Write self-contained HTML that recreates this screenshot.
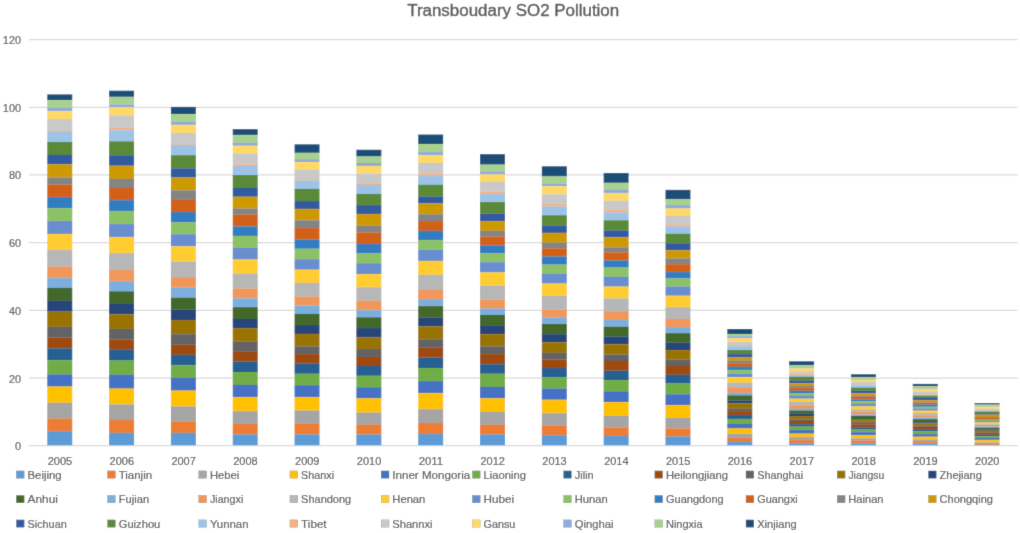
<!DOCTYPE html><html><head><meta charset="utf-8"><title>Transboudary SO2 Pollution</title>
<style>
html,body{margin:0;padding:0;background:#fff;}
body{width:1020px;height:533px;overflow:hidden;position:relative;font-family:"Liberation Sans",sans-serif;}
svg{position:absolute;left:0;top:0;display:block;}
text{font-family:"Liberation Sans",sans-serif;fill:#595959;}
.t{font-size:16px;stroke:#595959;stroke-width:0.4px;}
.a{font-size:11.2px;stroke:#595959;stroke-width:0.2px;}
.l{font-size:10.5px;stroke:#595959;stroke-width:0.2px;}
</style></head><body>
<svg width="1020" height="533" viewBox="0 0 1020 533">
<defs><filter id="soft" x="0" y="0" width="1020" height="533" filterUnits="userSpaceOnUse"><feConvolveMatrix order="3" kernelMatrix="0.01134 0.08382 0.01134 0.08382 0.61935 0.08382 0.01134 0.08382 0.01134" divisor="1" edgeMode="duplicate" preserveAlpha="true"/></filter></defs>
<g filter="url(#soft)">
<rect x="0" y="0" width="1020" height="533" fill="#fff"/>
<g stroke="#DADADA" stroke-width="1.25">
<line x1="28.85" y1="445.70" x2="1017.6" y2="445.70"/>
<line x1="28.85" y1="378.02" x2="1017.6" y2="378.02"/>
<line x1="28.85" y1="310.34" x2="1017.6" y2="310.34"/>
<line x1="28.85" y1="242.66" x2="1017.6" y2="242.66"/>
<line x1="28.85" y1="174.98" x2="1017.6" y2="174.98"/>
<line x1="28.85" y1="107.30" x2="1017.6" y2="107.30"/>
<line x1="28.85" y1="39.62" x2="1017.6" y2="39.62"/>
</g>
<g class="a" text-anchor="end">
<text x="21.0" y="450.20" textLength="6.05" lengthAdjust="spacingAndGlyphs">0</text>
<text x="21.0" y="382.52" textLength="12.10" lengthAdjust="spacingAndGlyphs">20</text>
<text x="21.0" y="314.84" textLength="12.10" lengthAdjust="spacingAndGlyphs">40</text>
<text x="21.0" y="247.16" textLength="12.10" lengthAdjust="spacingAndGlyphs">60</text>
<text x="21.0" y="179.48" textLength="12.10" lengthAdjust="spacingAndGlyphs">80</text>
<text x="21.0" y="111.80" textLength="18.15" lengthAdjust="spacingAndGlyphs">100</text>
<text x="21.0" y="44.12" textLength="18.15" lengthAdjust="spacingAndGlyphs">120</text>
</g>
<g id="bars">
<g>
<rect x="47.26" y="94.39" width="25.0" height="5.89" fill="#1F4E79"/>
<rect x="47.26" y="100.13" width="25.0" height="7.92" fill="#A9D18E"/>
<rect x="47.26" y="107.90" width="25.0" height="3.19" fill="#8FAADC"/>
<rect x="47.26" y="110.94" width="25.0" height="8.26" fill="#FFD966"/>
<rect x="47.26" y="119.04" width="25.0" height="11.97" fill="#C9C9C9"/>
<rect x="47.26" y="130.86" width="25.0" height="1.16" fill="#F4B183"/>
<rect x="47.26" y="131.88" width="25.0" height="10.28" fill="#9DC3E6"/>
<rect x="47.26" y="142.01" width="25.0" height="12.98" fill="#5A8A39"/>
<rect x="47.26" y="154.84" width="25.0" height="9.61" fill="#335AA1"/>
<rect x="47.26" y="164.30" width="25.0" height="13.32" fill="#CC9A00"/>
<rect x="47.26" y="177.47" width="25.0" height="7.24" fill="#848484"/>
<rect x="47.26" y="184.56" width="25.0" height="12.65" fill="#D26012"/>
<rect x="47.26" y="197.05" width="25.0" height="11.29" fill="#327DC2"/>
<rect x="47.26" y="208.20" width="25.0" height="12.98" fill="#8CC168"/>
<rect x="47.26" y="221.03" width="25.0" height="12.98" fill="#698ED0"/>
<rect x="47.26" y="233.86" width="25.0" height="16.02" fill="#FFCD33"/>
<rect x="47.26" y="249.74" width="25.0" height="17.04" fill="#B7B7B7"/>
<rect x="47.26" y="266.62" width="25.0" height="11.63" fill="#F1975A"/>
<rect x="47.26" y="278.11" width="25.0" height="9.94" fill="#7CAFDD"/>
<rect x="47.26" y="287.90" width="25.0" height="12.98" fill="#43682B"/>
<rect x="47.26" y="300.73" width="25.0" height="10.96" fill="#264478"/>
<rect x="47.26" y="311.54" width="25.0" height="15.35" fill="#997300"/>
<rect x="47.26" y="326.74" width="25.0" height="10.96" fill="#636363"/>
<rect x="47.26" y="337.54" width="25.0" height="10.96" fill="#9E480E"/>
<rect x="47.26" y="348.35" width="25.0" height="11.97" fill="#255E91"/>
<rect x="47.26" y="360.17" width="25.0" height="14.33" fill="#70AD47"/>
<rect x="47.26" y="374.35" width="25.0" height="12.31" fill="#4472C4"/>
<rect x="47.26" y="386.51" width="25.0" height="16.36" fill="#FFC000"/>
<rect x="47.26" y="402.72" width="25.0" height="16.02" fill="#A5A5A5"/>
<rect x="47.26" y="418.59" width="25.0" height="12.65" fill="#ED7D31"/>
<rect x="47.26" y="431.09" width="25.0" height="14.16" fill="#5B9BD5"/>
</g>
<g>
<rect x="109.08" y="90.68" width="25.0" height="6.23" fill="#1F4E79"/>
<rect x="109.08" y="96.75" width="25.0" height="7.92" fill="#A9D18E"/>
<rect x="109.08" y="104.52" width="25.0" height="2.85" fill="#8FAADC"/>
<rect x="109.08" y="107.22" width="25.0" height="8.26" fill="#FFD966"/>
<rect x="109.08" y="115.33" width="25.0" height="12.31" fill="#C9C9C9"/>
<rect x="109.08" y="127.49" width="25.0" height="2.85" fill="#F4B183"/>
<rect x="109.08" y="130.19" width="25.0" height="11.29" fill="#9DC3E6"/>
<rect x="109.08" y="141.33" width="25.0" height="14.00" fill="#5A8A39"/>
<rect x="109.08" y="155.18" width="25.0" height="10.62" fill="#335AA1"/>
<rect x="109.08" y="165.65" width="25.0" height="13.32" fill="#CC9A00"/>
<rect x="109.08" y="178.82" width="25.0" height="9.27" fill="#848484"/>
<rect x="109.08" y="187.94" width="25.0" height="12.31" fill="#D26012"/>
<rect x="109.08" y="200.09" width="25.0" height="10.96" fill="#327DC2"/>
<rect x="109.08" y="210.90" width="25.0" height="13.32" fill="#8CC168"/>
<rect x="109.08" y="224.07" width="25.0" height="12.98" fill="#698ED0"/>
<rect x="109.08" y="236.90" width="25.0" height="16.36" fill="#FFCD33"/>
<rect x="109.08" y="253.11" width="25.0" height="17.04" fill="#B7B7B7"/>
<rect x="109.08" y="270.00" width="25.0" height="11.29" fill="#F1975A"/>
<rect x="109.08" y="281.14" width="25.0" height="10.28" fill="#7CAFDD"/>
<rect x="109.08" y="291.28" width="25.0" height="12.65" fill="#43682B"/>
<rect x="109.08" y="303.77" width="25.0" height="10.62" fill="#264478"/>
<rect x="109.08" y="314.24" width="25.0" height="14.67" fill="#997300"/>
<rect x="109.08" y="328.76" width="25.0" height="10.96" fill="#636363"/>
<rect x="109.08" y="339.57" width="25.0" height="10.28" fill="#9E480E"/>
<rect x="109.08" y="349.70" width="25.0" height="10.96" fill="#255E91"/>
<rect x="109.08" y="360.51" width="25.0" height="14.33" fill="#70AD47"/>
<rect x="109.08" y="374.69" width="25.0" height="14.00" fill="#4472C4"/>
<rect x="109.08" y="388.54" width="25.0" height="16.02" fill="#FFC000"/>
<rect x="109.08" y="404.41" width="25.0" height="15.68" fill="#A5A5A5"/>
<rect x="109.08" y="419.94" width="25.0" height="12.98" fill="#ED7D31"/>
<rect x="109.08" y="432.78" width="25.0" height="12.47" fill="#5B9BD5"/>
</g>
<g>
<rect x="170.90" y="106.89" width="25.0" height="7.24" fill="#1F4E79"/>
<rect x="170.90" y="113.98" width="25.0" height="7.92" fill="#A9D18E"/>
<rect x="170.90" y="121.74" width="25.0" height="3.19" fill="#8FAADC"/>
<rect x="170.90" y="124.78" width="25.0" height="8.26" fill="#FFD966"/>
<rect x="170.90" y="132.89" width="25.0" height="11.29" fill="#C9C9C9"/>
<rect x="170.90" y="144.03" width="25.0" height="0.83" fill="#F4B183"/>
<rect x="170.90" y="144.71" width="25.0" height="10.62" fill="#9DC3E6"/>
<rect x="170.90" y="155.18" width="25.0" height="13.32" fill="#5A8A39"/>
<rect x="170.90" y="168.35" width="25.0" height="9.27" fill="#335AA1"/>
<rect x="170.90" y="177.47" width="25.0" height="12.98" fill="#CC9A00"/>
<rect x="170.90" y="190.30" width="25.0" height="9.61" fill="#848484"/>
<rect x="170.90" y="199.76" width="25.0" height="12.31" fill="#D26012"/>
<rect x="170.90" y="211.91" width="25.0" height="10.62" fill="#327DC2"/>
<rect x="170.90" y="222.38" width="25.0" height="11.97" fill="#8CC168"/>
<rect x="170.90" y="234.20" width="25.0" height="12.31" fill="#698ED0"/>
<rect x="170.90" y="246.36" width="25.0" height="15.35" fill="#FFCD33"/>
<rect x="170.90" y="261.56" width="25.0" height="15.68" fill="#B7B7B7"/>
<rect x="170.90" y="277.09" width="25.0" height="10.62" fill="#F1975A"/>
<rect x="170.90" y="287.56" width="25.0" height="10.28" fill="#7CAFDD"/>
<rect x="170.90" y="297.69" width="25.0" height="11.97" fill="#43682B"/>
<rect x="170.90" y="309.51" width="25.0" height="10.62" fill="#264478"/>
<rect x="170.90" y="319.98" width="25.0" height="14.33" fill="#997300"/>
<rect x="170.90" y="334.17" width="25.0" height="10.62" fill="#636363"/>
<rect x="170.90" y="344.63" width="25.0" height="10.28" fill="#9E480E"/>
<rect x="170.90" y="354.77" width="25.0" height="10.62" fill="#255E91"/>
<rect x="170.90" y="365.23" width="25.0" height="12.65" fill="#70AD47"/>
<rect x="170.90" y="377.73" width="25.0" height="12.98" fill="#4472C4"/>
<rect x="170.90" y="390.56" width="25.0" height="16.02" fill="#FFC000"/>
<rect x="170.90" y="406.44" width="25.0" height="15.01" fill="#A5A5A5"/>
<rect x="170.90" y="421.29" width="25.0" height="11.63" fill="#ED7D31"/>
<rect x="170.90" y="432.78" width="25.0" height="12.47" fill="#5B9BD5"/>
</g>
<g>
<rect x="232.72" y="129.12" width="25.0" height="5.89" fill="#1F4E79"/>
<rect x="232.72" y="134.86" width="25.0" height="7.92" fill="#A9D18E"/>
<rect x="232.72" y="142.63" width="25.0" height="3.19" fill="#8FAADC"/>
<rect x="232.72" y="145.67" width="25.0" height="8.26" fill="#FFD966"/>
<rect x="232.72" y="153.77" width="25.0" height="10.62" fill="#C9C9C9"/>
<rect x="232.72" y="164.24" width="25.0" height="1.84" fill="#F4B183"/>
<rect x="232.72" y="165.93" width="25.0" height="9.27" fill="#9DC3E6"/>
<rect x="232.72" y="175.05" width="25.0" height="12.98" fill="#5A8A39"/>
<rect x="232.72" y="187.88" width="25.0" height="8.93" fill="#335AA1"/>
<rect x="232.72" y="196.66" width="25.0" height="11.97" fill="#CC9A00"/>
<rect x="232.72" y="208.48" width="25.0" height="6.23" fill="#848484"/>
<rect x="232.72" y="214.56" width="25.0" height="11.97" fill="#D26012"/>
<rect x="232.72" y="226.38" width="25.0" height="9.61" fill="#327DC2"/>
<rect x="232.72" y="235.83" width="25.0" height="12.31" fill="#8CC168"/>
<rect x="232.72" y="247.99" width="25.0" height="11.63" fill="#698ED0"/>
<rect x="232.72" y="259.47" width="25.0" height="14.39" fill="#FFCD33"/>
<rect x="232.72" y="273.71" width="25.0" height="15.01" fill="#B7B7B7"/>
<rect x="232.72" y="288.57" width="25.0" height="9.94" fill="#F1975A"/>
<rect x="232.72" y="298.37" width="25.0" height="8.93" fill="#7CAFDD"/>
<rect x="232.72" y="307.15" width="25.0" height="11.97" fill="#43682B"/>
<rect x="232.72" y="318.97" width="25.0" height="9.27" fill="#264478"/>
<rect x="232.72" y="328.09" width="25.0" height="13.66" fill="#997300"/>
<rect x="232.72" y="341.59" width="25.0" height="10.28" fill="#636363"/>
<rect x="232.72" y="351.73" width="25.0" height="9.94" fill="#9E480E"/>
<rect x="232.72" y="361.52" width="25.0" height="10.62" fill="#255E91"/>
<rect x="232.72" y="371.99" width="25.0" height="12.98" fill="#70AD47"/>
<rect x="232.72" y="384.82" width="25.0" height="12.31" fill="#4472C4"/>
<rect x="232.72" y="396.98" width="25.0" height="14.33" fill="#FFC000"/>
<rect x="232.72" y="411.16" width="25.0" height="12.98" fill="#A5A5A5"/>
<rect x="232.72" y="424.00" width="25.0" height="10.62" fill="#ED7D31"/>
<rect x="232.72" y="434.47" width="25.0" height="10.78" fill="#5B9BD5"/>
</g>
<g>
<rect x="294.54" y="144.32" width="25.0" height="8.59" fill="#1F4E79"/>
<rect x="294.54" y="152.76" width="25.0" height="6.57" fill="#A9D18E"/>
<rect x="294.54" y="159.17" width="25.0" height="2.85" fill="#8FAADC"/>
<rect x="294.54" y="161.88" width="25.0" height="7.92" fill="#FFD966"/>
<rect x="294.54" y="169.64" width="25.0" height="9.61" fill="#C9C9C9"/>
<rect x="294.54" y="179.10" width="25.0" height="1.50" fill="#F4B183"/>
<rect x="294.54" y="180.45" width="25.0" height="8.59" fill="#9DC3E6"/>
<rect x="294.54" y="188.89" width="25.0" height="12.31" fill="#5A8A39"/>
<rect x="294.54" y="201.05" width="25.0" height="7.92" fill="#335AA1"/>
<rect x="294.54" y="208.82" width="25.0" height="11.63" fill="#CC9A00"/>
<rect x="294.54" y="220.30" width="25.0" height="7.92" fill="#848484"/>
<rect x="294.54" y="228.07" width="25.0" height="11.63" fill="#D26012"/>
<rect x="294.54" y="239.55" width="25.0" height="9.27" fill="#327DC2"/>
<rect x="294.54" y="248.67" width="25.0" height="10.62" fill="#8CC168"/>
<rect x="294.54" y="259.14" width="25.0" height="10.62" fill="#698ED0"/>
<rect x="294.54" y="269.61" width="25.0" height="13.38" fill="#FFCD33"/>
<rect x="294.54" y="282.83" width="25.0" height="14.00" fill="#B7B7B7"/>
<rect x="294.54" y="296.68" width="25.0" height="8.93" fill="#F1975A"/>
<rect x="294.54" y="305.46" width="25.0" height="8.59" fill="#7CAFDD"/>
<rect x="294.54" y="313.90" width="25.0" height="11.29" fill="#43682B"/>
<rect x="294.54" y="325.05" width="25.0" height="8.93" fill="#264478"/>
<rect x="294.54" y="333.83" width="25.0" height="12.65" fill="#997300"/>
<rect x="294.54" y="346.32" width="25.0" height="7.92" fill="#636363"/>
<rect x="294.54" y="354.09" width="25.0" height="9.61" fill="#9E480E"/>
<rect x="294.54" y="363.55" width="25.0" height="10.28" fill="#255E91"/>
<rect x="294.54" y="373.68" width="25.0" height="11.63" fill="#70AD47"/>
<rect x="294.54" y="385.16" width="25.0" height="11.97" fill="#4472C4"/>
<rect x="294.54" y="396.98" width="25.0" height="13.66" fill="#FFC000"/>
<rect x="294.54" y="410.49" width="25.0" height="12.98" fill="#A5A5A5"/>
<rect x="294.54" y="423.32" width="25.0" height="11.29" fill="#ED7D31"/>
<rect x="294.54" y="434.47" width="25.0" height="10.78" fill="#5B9BD5"/>
</g>
<g>
<rect x="356.36" y="149.72" width="25.0" height="6.90" fill="#1F4E79"/>
<rect x="356.36" y="156.47" width="25.0" height="6.57" fill="#A9D18E"/>
<rect x="356.36" y="162.89" width="25.0" height="3.19" fill="#8FAADC"/>
<rect x="356.36" y="165.93" width="25.0" height="7.58" fill="#FFD966"/>
<rect x="356.36" y="173.36" width="25.0" height="9.94" fill="#C9C9C9"/>
<rect x="356.36" y="183.15" width="25.0" height="1.84" fill="#F4B183"/>
<rect x="356.36" y="184.84" width="25.0" height="9.27" fill="#9DC3E6"/>
<rect x="356.36" y="193.96" width="25.0" height="11.29" fill="#5A8A39"/>
<rect x="356.36" y="205.10" width="25.0" height="8.93" fill="#335AA1"/>
<rect x="356.36" y="213.88" width="25.0" height="11.97" fill="#CC9A00"/>
<rect x="356.36" y="225.70" width="25.0" height="6.90" fill="#848484"/>
<rect x="356.36" y="232.46" width="25.0" height="11.63" fill="#D26012"/>
<rect x="356.36" y="243.94" width="25.0" height="9.27" fill="#327DC2"/>
<rect x="356.36" y="253.06" width="25.0" height="10.28" fill="#8CC168"/>
<rect x="356.36" y="263.19" width="25.0" height="11.01" fill="#698ED0"/>
<rect x="356.36" y="274.05" width="25.0" height="13.32" fill="#FFCD33"/>
<rect x="356.36" y="287.22" width="25.0" height="13.66" fill="#B7B7B7"/>
<rect x="356.36" y="300.73" width="25.0" height="9.61" fill="#F1975A"/>
<rect x="356.36" y="310.19" width="25.0" height="7.24" fill="#7CAFDD"/>
<rect x="356.36" y="317.28" width="25.0" height="10.96" fill="#43682B"/>
<rect x="356.36" y="328.09" width="25.0" height="9.27" fill="#264478"/>
<rect x="356.36" y="337.20" width="25.0" height="11.97" fill="#997300"/>
<rect x="356.36" y="349.02" width="25.0" height="7.92" fill="#636363"/>
<rect x="356.36" y="356.79" width="25.0" height="9.27" fill="#9E480E"/>
<rect x="356.36" y="365.91" width="25.0" height="9.94" fill="#255E91"/>
<rect x="356.36" y="375.70" width="25.0" height="11.63" fill="#70AD47"/>
<rect x="356.36" y="387.19" width="25.0" height="11.29" fill="#4472C4"/>
<rect x="356.36" y="398.33" width="25.0" height="14.33" fill="#FFC000"/>
<rect x="356.36" y="412.51" width="25.0" height="12.31" fill="#A5A5A5"/>
<rect x="356.36" y="424.67" width="25.0" height="9.94" fill="#ED7D31"/>
<rect x="356.36" y="434.47" width="25.0" height="10.78" fill="#5B9BD5"/>
</g>
<g>
<rect x="418.18" y="134.52" width="25.0" height="9.61" fill="#1F4E79"/>
<rect x="418.18" y="143.98" width="25.0" height="8.26" fill="#A9D18E"/>
<rect x="418.18" y="152.08" width="25.0" height="3.19" fill="#8FAADC"/>
<rect x="418.18" y="155.12" width="25.0" height="7.92" fill="#FFD966"/>
<rect x="418.18" y="162.89" width="25.0" height="11.29" fill="#C9C9C9"/>
<rect x="418.18" y="174.03" width="25.0" height="2.18" fill="#F4B183"/>
<rect x="418.18" y="176.06" width="25.0" height="8.93" fill="#9DC3E6"/>
<rect x="418.18" y="184.84" width="25.0" height="11.97" fill="#5A8A39"/>
<rect x="418.18" y="196.66" width="25.0" height="6.90" fill="#335AA1"/>
<rect x="418.18" y="203.41" width="25.0" height="10.96" fill="#CC9A00"/>
<rect x="418.18" y="214.22" width="25.0" height="6.90" fill="#848484"/>
<rect x="418.18" y="220.98" width="25.0" height="9.94" fill="#D26012"/>
<rect x="418.18" y="230.77" width="25.0" height="9.27" fill="#327DC2"/>
<rect x="418.18" y="239.89" width="25.0" height="10.28" fill="#8CC168"/>
<rect x="418.18" y="250.02" width="25.0" height="10.96" fill="#698ED0"/>
<rect x="418.18" y="260.83" width="25.0" height="14.05" fill="#FFCD33"/>
<rect x="418.18" y="274.73" width="25.0" height="15.35" fill="#B7B7B7"/>
<rect x="418.18" y="289.92" width="25.0" height="9.27" fill="#F1975A"/>
<rect x="418.18" y="299.04" width="25.0" height="7.24" fill="#7CAFDD"/>
<rect x="418.18" y="306.14" width="25.0" height="11.63" fill="#43682B"/>
<rect x="418.18" y="317.62" width="25.0" height="8.93" fill="#264478"/>
<rect x="418.18" y="326.40" width="25.0" height="12.98" fill="#997300"/>
<rect x="418.18" y="339.23" width="25.0" height="8.59" fill="#636363"/>
<rect x="418.18" y="347.67" width="25.0" height="9.94" fill="#9E480E"/>
<rect x="418.18" y="357.47" width="25.0" height="10.62" fill="#255E91"/>
<rect x="418.18" y="367.94" width="25.0" height="13.32" fill="#70AD47"/>
<rect x="418.18" y="381.11" width="25.0" height="11.97" fill="#4472C4"/>
<rect x="418.18" y="392.93" width="25.0" height="16.36" fill="#FFC000"/>
<rect x="418.18" y="409.14" width="25.0" height="14.00" fill="#A5A5A5"/>
<rect x="418.18" y="422.98" width="25.0" height="10.96" fill="#ED7D31"/>
<rect x="418.18" y="433.79" width="25.0" height="11.46" fill="#5B9BD5"/>
</g>
<g>
<rect x="480.00" y="154.11" width="25.0" height="10.62" fill="#1F4E79"/>
<rect x="480.00" y="164.58" width="25.0" height="6.90" fill="#A9D18E"/>
<rect x="480.00" y="171.33" width="25.0" height="3.19" fill="#8FAADC"/>
<rect x="480.00" y="174.37" width="25.0" height="7.58" fill="#FFD966"/>
<rect x="480.00" y="181.80" width="25.0" height="9.94" fill="#C9C9C9"/>
<rect x="480.00" y="191.59" width="25.0" height="2.51" fill="#F4B183"/>
<rect x="480.00" y="193.96" width="25.0" height="8.26" fill="#9DC3E6"/>
<rect x="480.00" y="202.06" width="25.0" height="11.63" fill="#5A8A39"/>
<rect x="480.00" y="213.55" width="25.0" height="7.58" fill="#335AA1"/>
<rect x="480.00" y="220.98" width="25.0" height="9.94" fill="#CC9A00"/>
<rect x="480.00" y="230.77" width="25.0" height="5.89" fill="#848484"/>
<rect x="480.00" y="236.51" width="25.0" height="8.93" fill="#D26012"/>
<rect x="480.00" y="245.29" width="25.0" height="7.92" fill="#327DC2"/>
<rect x="480.00" y="253.06" width="25.0" height="9.27" fill="#8CC168"/>
<rect x="480.00" y="262.18" width="25.0" height="10.34" fill="#698ED0"/>
<rect x="480.00" y="272.36" width="25.0" height="13.32" fill="#FFCD33"/>
<rect x="480.00" y="285.53" width="25.0" height="14.33" fill="#B7B7B7"/>
<rect x="480.00" y="299.72" width="25.0" height="8.93" fill="#F1975A"/>
<rect x="480.00" y="308.50" width="25.0" height="6.57" fill="#7CAFDD"/>
<rect x="480.00" y="314.92" width="25.0" height="10.96" fill="#43682B"/>
<rect x="480.00" y="325.72" width="25.0" height="8.59" fill="#264478"/>
<rect x="480.00" y="334.17" width="25.0" height="12.31" fill="#997300"/>
<rect x="480.00" y="346.32" width="25.0" height="7.92" fill="#636363"/>
<rect x="480.00" y="354.09" width="25.0" height="10.28" fill="#9E480E"/>
<rect x="480.00" y="364.22" width="25.0" height="9.61" fill="#255E91"/>
<rect x="480.00" y="373.68" width="25.0" height="13.32" fill="#70AD47"/>
<rect x="480.00" y="386.85" width="25.0" height="11.63" fill="#4472C4"/>
<rect x="480.00" y="398.33" width="25.0" height="13.66" fill="#FFC000"/>
<rect x="480.00" y="411.84" width="25.0" height="12.98" fill="#A5A5A5"/>
<rect x="480.00" y="424.67" width="25.0" height="9.94" fill="#ED7D31"/>
<rect x="480.00" y="434.47" width="25.0" height="10.78" fill="#5B9BD5"/>
</g>
<g>
<rect x="541.82" y="166.27" width="25.0" height="10.28" fill="#1F4E79"/>
<rect x="541.82" y="176.40" width="25.0" height="7.24" fill="#A9D18E"/>
<rect x="541.82" y="183.49" width="25.0" height="2.85" fill="#8FAADC"/>
<rect x="541.82" y="186.19" width="25.0" height="8.26" fill="#FFD966"/>
<rect x="541.82" y="194.30" width="25.0" height="9.94" fill="#C9C9C9"/>
<rect x="541.82" y="204.09" width="25.0" height="2.51" fill="#F4B183"/>
<rect x="541.82" y="206.45" width="25.0" height="8.93" fill="#9DC3E6"/>
<rect x="541.82" y="215.23" width="25.0" height="10.62" fill="#5A8A39"/>
<rect x="541.82" y="225.70" width="25.0" height="7.24" fill="#335AA1"/>
<rect x="541.82" y="232.80" width="25.0" height="9.94" fill="#CC9A00"/>
<rect x="541.82" y="242.59" width="25.0" height="5.89" fill="#848484"/>
<rect x="541.82" y="248.33" width="25.0" height="8.26" fill="#D26012"/>
<rect x="541.82" y="256.44" width="25.0" height="8.26" fill="#327DC2"/>
<rect x="541.82" y="264.54" width="25.0" height="9.32" fill="#8CC168"/>
<rect x="541.82" y="273.71" width="25.0" height="9.94" fill="#698ED0"/>
<rect x="541.82" y="283.51" width="25.0" height="12.65" fill="#FFCD33"/>
<rect x="541.82" y="296.00" width="25.0" height="13.66" fill="#B7B7B7"/>
<rect x="541.82" y="309.51" width="25.0" height="7.92" fill="#F1975A"/>
<rect x="541.82" y="317.28" width="25.0" height="6.90" fill="#7CAFDD"/>
<rect x="541.82" y="324.03" width="25.0" height="10.28" fill="#43682B"/>
<rect x="541.82" y="334.17" width="25.0" height="8.26" fill="#264478"/>
<rect x="541.82" y="342.27" width="25.0" height="10.62" fill="#997300"/>
<rect x="541.82" y="352.74" width="25.0" height="6.90" fill="#636363"/>
<rect x="541.82" y="359.49" width="25.0" height="8.59" fill="#9E480E"/>
<rect x="541.82" y="367.94" width="25.0" height="9.61" fill="#255E91"/>
<rect x="541.82" y="377.39" width="25.0" height="11.29" fill="#70AD47"/>
<rect x="541.82" y="388.54" width="25.0" height="11.29" fill="#4472C4"/>
<rect x="541.82" y="399.68" width="25.0" height="13.66" fill="#FFC000"/>
<rect x="541.82" y="413.19" width="25.0" height="12.31" fill="#A5A5A5"/>
<rect x="541.82" y="425.35" width="25.0" height="9.94" fill="#ED7D31"/>
<rect x="541.82" y="435.14" width="25.0" height="10.11" fill="#5B9BD5"/>
</g>
<g>
<rect x="603.64" y="172.96" width="25.0" height="9.94" fill="#1F4E79"/>
<rect x="603.64" y="182.76" width="25.0" height="7.24" fill="#A9D18E"/>
<rect x="603.64" y="189.85" width="25.0" height="3.19" fill="#8FAADC"/>
<rect x="603.64" y="192.89" width="25.0" height="7.92" fill="#FFD966"/>
<rect x="603.64" y="200.66" width="25.0" height="9.61" fill="#C9C9C9"/>
<rect x="603.64" y="210.11" width="25.0" height="2.51" fill="#F4B183"/>
<rect x="603.64" y="212.48" width="25.0" height="7.92" fill="#9DC3E6"/>
<rect x="603.64" y="220.24" width="25.0" height="10.28" fill="#5A8A39"/>
<rect x="603.64" y="230.38" width="25.0" height="6.90" fill="#335AA1"/>
<rect x="603.64" y="237.13" width="25.0" height="10.28" fill="#CC9A00"/>
<rect x="603.64" y="247.26" width="25.0" height="5.22" fill="#848484"/>
<rect x="603.64" y="252.33" width="25.0" height="8.26" fill="#D26012"/>
<rect x="603.64" y="260.43" width="25.0" height="7.24" fill="#327DC2"/>
<rect x="603.64" y="267.52" width="25.0" height="9.38" fill="#8CC168"/>
<rect x="603.64" y="276.75" width="25.0" height="9.94" fill="#698ED0"/>
<rect x="603.64" y="286.55" width="25.0" height="11.97" fill="#FFCD33"/>
<rect x="603.64" y="298.37" width="25.0" height="13.66" fill="#B7B7B7"/>
<rect x="603.64" y="311.88" width="25.0" height="8.26" fill="#F1975A"/>
<rect x="603.64" y="319.98" width="25.0" height="6.90" fill="#7CAFDD"/>
<rect x="603.64" y="326.74" width="25.0" height="9.94" fill="#43682B"/>
<rect x="603.64" y="336.53" width="25.0" height="7.92" fill="#264478"/>
<rect x="603.64" y="344.30" width="25.0" height="10.28" fill="#997300"/>
<rect x="603.64" y="354.43" width="25.0" height="6.57" fill="#636363"/>
<rect x="603.64" y="360.84" width="25.0" height="9.94" fill="#9E480E"/>
<rect x="603.64" y="370.64" width="25.0" height="9.61" fill="#255E91"/>
<rect x="603.64" y="380.09" width="25.0" height="11.29" fill="#70AD47"/>
<rect x="603.64" y="391.24" width="25.0" height="10.96" fill="#4472C4"/>
<rect x="603.64" y="402.05" width="25.0" height="14.00" fill="#FFC000"/>
<rect x="603.64" y="415.89" width="25.0" height="11.63" fill="#A5A5A5"/>
<rect x="603.64" y="427.37" width="25.0" height="8.59" fill="#ED7D31"/>
<rect x="603.64" y="435.82" width="25.0" height="9.43" fill="#5B9BD5"/>
</g>
<g>
<rect x="665.46" y="189.85" width="25.0" height="9.61" fill="#1F4E79"/>
<rect x="665.46" y="199.31" width="25.0" height="5.89" fill="#A9D18E"/>
<rect x="665.46" y="205.05" width="25.0" height="3.53" fill="#8FAADC"/>
<rect x="665.46" y="208.42" width="25.0" height="7.58" fill="#FFD966"/>
<rect x="665.46" y="215.85" width="25.0" height="8.59" fill="#C9C9C9"/>
<rect x="665.46" y="224.30" width="25.0" height="2.18" fill="#F4B183"/>
<rect x="665.46" y="226.32" width="25.0" height="7.58" fill="#9DC3E6"/>
<rect x="665.46" y="233.75" width="25.0" height="9.61" fill="#5A8A39"/>
<rect x="665.46" y="243.21" width="25.0" height="7.24" fill="#335AA1"/>
<rect x="665.46" y="250.30" width="25.0" height="8.26" fill="#CC9A00"/>
<rect x="665.46" y="258.41" width="25.0" height="5.89" fill="#848484"/>
<rect x="665.46" y="264.15" width="25.0" height="8.03" fill="#D26012"/>
<rect x="665.46" y="272.03" width="25.0" height="6.57" fill="#327DC2"/>
<rect x="665.46" y="278.44" width="25.0" height="8.26" fill="#8CC168"/>
<rect x="665.46" y="286.55" width="25.0" height="9.27" fill="#698ED0"/>
<rect x="665.46" y="295.67" width="25.0" height="11.63" fill="#FFCD33"/>
<rect x="665.46" y="307.15" width="25.0" height="11.97" fill="#B7B7B7"/>
<rect x="665.46" y="318.97" width="25.0" height="8.26" fill="#F1975A"/>
<rect x="665.46" y="327.07" width="25.0" height="6.23" fill="#7CAFDD"/>
<rect x="665.46" y="333.15" width="25.0" height="9.61" fill="#43682B"/>
<rect x="665.46" y="342.61" width="25.0" height="7.58" fill="#264478"/>
<rect x="665.46" y="350.04" width="25.0" height="9.61" fill="#997300"/>
<rect x="665.46" y="359.49" width="25.0" height="6.57" fill="#636363"/>
<rect x="665.46" y="365.91" width="25.0" height="8.93" fill="#9E480E"/>
<rect x="665.46" y="374.69" width="25.0" height="8.93" fill="#255E91"/>
<rect x="665.46" y="383.47" width="25.0" height="10.96" fill="#70AD47"/>
<rect x="665.46" y="394.28" width="25.0" height="10.96" fill="#4472C4"/>
<rect x="665.46" y="405.08" width="25.0" height="12.98" fill="#FFC000"/>
<rect x="665.46" y="417.92" width="25.0" height="10.62" fill="#A5A5A5"/>
<rect x="665.46" y="428.39" width="25.0" height="8.26" fill="#ED7D31"/>
<rect x="665.46" y="436.49" width="25.0" height="8.76" fill="#5B9BD5"/>
</g>
<g>
<rect x="727.28" y="328.99" width="25.0" height="5.17" fill="#1F4E79"/>
<rect x="727.28" y="334.01" width="25.0" height="2.40" fill="#A9D18E"/>
<rect x="727.28" y="336.26" width="25.0" height="2.19" fill="#8FAADC"/>
<rect x="727.28" y="338.30" width="25.0" height="3.95" fill="#FFD966"/>
<rect x="727.28" y="342.10" width="25.0" height="3.10" fill="#C9C9C9"/>
<rect x="727.28" y="345.05" width="25.0" height="1.30" fill="#F4B183"/>
<rect x="727.28" y="346.20" width="25.0" height="3.95" fill="#9DC3E6"/>
<rect x="727.28" y="350.00" width="25.0" height="4.23" fill="#5A8A39"/>
<rect x="727.28" y="354.08" width="25.0" height="3.43" fill="#335AA1"/>
<rect x="727.28" y="357.36" width="25.0" height="3.43" fill="#CC9A00"/>
<rect x="727.28" y="360.65" width="25.0" height="2.73" fill="#848484"/>
<rect x="727.28" y="363.23" width="25.0" height="3.67" fill="#D26012"/>
<rect x="727.28" y="366.74" width="25.0" height="3.20" fill="#327DC2"/>
<rect x="727.28" y="369.79" width="25.0" height="3.90" fill="#8CC168"/>
<rect x="727.28" y="373.55" width="25.0" height="3.67" fill="#698ED0"/>
<rect x="727.28" y="377.06" width="25.0" height="5.78" fill="#FFCD33"/>
<rect x="727.28" y="382.69" width="25.0" height="5.31" fill="#B7B7B7"/>
<rect x="727.28" y="387.85" width="25.0" height="5.07" fill="#F1975A"/>
<rect x="727.28" y="392.78" width="25.0" height="2.73" fill="#7CAFDD"/>
<rect x="727.28" y="395.36" width="25.0" height="5.31" fill="#43682B"/>
<rect x="727.28" y="400.52" width="25.0" height="2.96" fill="#264478"/>
<rect x="727.28" y="403.33" width="25.0" height="5.54" fill="#997300"/>
<rect x="727.28" y="408.72" width="25.0" height="2.50" fill="#636363"/>
<rect x="727.28" y="411.07" width="25.0" height="4.14" fill="#9E480E"/>
<rect x="727.28" y="415.06" width="25.0" height="3.90" fill="#255E91"/>
<rect x="727.28" y="418.81" width="25.0" height="5.31" fill="#70AD47"/>
<rect x="727.28" y="423.97" width="25.0" height="4.61" fill="#4472C4"/>
<rect x="727.28" y="428.42" width="25.0" height="5.54" fill="#FFC000"/>
<rect x="727.28" y="433.82" width="25.0" height="4.37" fill="#A5A5A5"/>
<rect x="727.28" y="438.04" width="25.0" height="3.90" fill="#ED7D31"/>
<rect x="727.28" y="441.79" width="25.0" height="3.46" fill="#5B9BD5"/>
</g>
<g>
<rect x="789.10" y="361.26" width="25.0" height="4.18" fill="#1F4E79"/>
<rect x="789.10" y="365.29" width="25.0" height="2.31" fill="#A9D18E"/>
<rect x="789.10" y="367.45" width="25.0" height="1.09" fill="#8FAADC"/>
<rect x="789.10" y="368.39" width="25.0" height="2.96" fill="#FFD966"/>
<rect x="789.10" y="371.20" width="25.0" height="2.54" fill="#C9C9C9"/>
<rect x="789.10" y="373.59" width="25.0" height="1.65" fill="#F4B183"/>
<rect x="789.10" y="375.09" width="25.0" height="1.89" fill="#9DC3E6"/>
<rect x="789.10" y="376.83" width="25.0" height="3.90" fill="#5A8A39"/>
<rect x="789.10" y="380.58" width="25.0" height="2.85" fill="#335AA1"/>
<rect x="789.10" y="383.28" width="25.0" height="2.85" fill="#CC9A00"/>
<rect x="789.10" y="385.98" width="25.0" height="1.79" fill="#848484"/>
<rect x="789.10" y="387.62" width="25.0" height="3.20" fill="#D26012"/>
<rect x="789.10" y="390.67" width="25.0" height="2.50" fill="#327DC2"/>
<rect x="789.10" y="393.01" width="25.0" height="2.96" fill="#8CC168"/>
<rect x="789.10" y="395.83" width="25.0" height="2.96" fill="#698ED0"/>
<rect x="789.10" y="398.64" width="25.0" height="3.43" fill="#FFCD33"/>
<rect x="789.10" y="401.92" width="25.0" height="3.43" fill="#B7B7B7"/>
<rect x="789.10" y="405.21" width="25.0" height="3.67" fill="#F1975A"/>
<rect x="789.10" y="408.72" width="25.0" height="2.03" fill="#7CAFDD"/>
<rect x="789.10" y="410.60" width="25.0" height="3.20" fill="#43682B"/>
<rect x="789.10" y="413.65" width="25.0" height="2.50" fill="#264478"/>
<rect x="789.10" y="415.99" width="25.0" height="3.43" fill="#997300"/>
<rect x="789.10" y="419.28" width="25.0" height="1.79" fill="#636363"/>
<rect x="789.10" y="420.92" width="25.0" height="3.43" fill="#9E480E"/>
<rect x="789.10" y="424.20" width="25.0" height="2.50" fill="#255E91"/>
<rect x="789.10" y="426.55" width="25.0" height="3.67" fill="#70AD47"/>
<rect x="789.10" y="430.07" width="25.0" height="3.67" fill="#4472C4"/>
<rect x="789.10" y="433.58" width="25.0" height="3.67" fill="#FFC000"/>
<rect x="789.10" y="437.10" width="25.0" height="3.20" fill="#A5A5A5"/>
<rect x="789.10" y="440.15" width="25.0" height="3.20" fill="#ED7D31"/>
<rect x="789.10" y="443.20" width="25.0" height="2.05" fill="#5B9BD5"/>
</g>
<g>
<rect x="850.92" y="374.25" width="25.0" height="3.00" fill="#1F4E79"/>
<rect x="850.92" y="377.10" width="25.0" height="2.11" fill="#A9D18E"/>
<rect x="850.92" y="379.06" width="25.0" height="0.68" fill="#8FAADC"/>
<rect x="850.92" y="379.60" width="25.0" height="2.65" fill="#FFD966"/>
<rect x="850.92" y="382.09" width="25.0" height="3.09" fill="#C9C9C9"/>
<rect x="850.92" y="385.03" width="25.0" height="0.60" fill="#F4B183"/>
<rect x="850.92" y="385.48" width="25.0" height="2.29" fill="#9DC3E6"/>
<rect x="850.92" y="387.62" width="25.0" height="3.18" fill="#5A8A39"/>
<rect x="850.92" y="390.65" width="25.0" height="2.65" fill="#335AA1"/>
<rect x="850.92" y="393.14" width="25.0" height="2.65" fill="#CC9A00"/>
<rect x="850.92" y="395.64" width="25.0" height="1.22" fill="#848484"/>
<rect x="850.92" y="396.71" width="25.0" height="2.82" fill="#D26012"/>
<rect x="850.92" y="399.38" width="25.0" height="2.11" fill="#327DC2"/>
<rect x="850.92" y="401.34" width="25.0" height="2.65" fill="#8CC168"/>
<rect x="850.92" y="403.84" width="25.0" height="2.65" fill="#698ED0"/>
<rect x="850.92" y="406.33" width="25.0" height="3.18" fill="#FFCD33"/>
<rect x="850.92" y="409.36" width="25.0" height="2.47" fill="#B7B7B7"/>
<rect x="850.92" y="411.68" width="25.0" height="3.00" fill="#F1975A"/>
<rect x="850.92" y="414.53" width="25.0" height="1.58" fill="#7CAFDD"/>
<rect x="850.92" y="415.96" width="25.0" height="3.71" fill="#43682B"/>
<rect x="850.92" y="419.52" width="25.0" height="0.86" fill="#264478"/>
<rect x="850.92" y="420.23" width="25.0" height="2.65" fill="#997300"/>
<rect x="850.92" y="422.73" width="25.0" height="1.93" fill="#636363"/>
<rect x="850.92" y="424.51" width="25.0" height="2.82" fill="#9E480E"/>
<rect x="850.92" y="427.19" width="25.0" height="2.47" fill="#255E91"/>
<rect x="850.92" y="429.50" width="25.0" height="2.82" fill="#70AD47"/>
<rect x="850.92" y="432.18" width="25.0" height="3.18" fill="#4472C4"/>
<rect x="850.92" y="435.21" width="25.0" height="3.36" fill="#FFC000"/>
<rect x="850.92" y="438.41" width="25.0" height="2.29" fill="#A5A5A5"/>
<rect x="850.92" y="440.55" width="25.0" height="2.82" fill="#ED7D31"/>
<rect x="850.92" y="443.23" width="25.0" height="2.02" fill="#5B9BD5"/>
</g>
<g>
<rect x="912.74" y="383.87" width="25.0" height="2.47" fill="#1F4E79"/>
<rect x="912.74" y="386.19" width="25.0" height="2.47" fill="#A9D18E"/>
<rect x="912.74" y="388.51" width="25.0" height="0.51" fill="#8FAADC"/>
<rect x="912.74" y="388.86" width="25.0" height="2.65" fill="#FFD966"/>
<rect x="912.74" y="391.36" width="25.0" height="3.00" fill="#C9C9C9"/>
<rect x="912.74" y="394.21" width="25.0" height="0.68" fill="#F4B183"/>
<rect x="912.74" y="394.75" width="25.0" height="1.04" fill="#9DC3E6"/>
<rect x="912.74" y="395.64" width="25.0" height="2.29" fill="#5A8A39"/>
<rect x="912.74" y="397.78" width="25.0" height="2.47" fill="#335AA1"/>
<rect x="912.74" y="400.09" width="25.0" height="2.29" fill="#CC9A00"/>
<rect x="912.74" y="402.23" width="25.0" height="0.68" fill="#848484"/>
<rect x="912.74" y="402.77" width="25.0" height="1.93" fill="#D26012"/>
<rect x="912.74" y="404.55" width="25.0" height="2.29" fill="#327DC2"/>
<rect x="912.74" y="406.69" width="25.0" height="1.93" fill="#8CC168"/>
<rect x="912.74" y="408.47" width="25.0" height="2.29" fill="#698ED0"/>
<rect x="912.74" y="410.61" width="25.0" height="2.65" fill="#FFCD33"/>
<rect x="912.74" y="413.11" width="25.0" height="2.29" fill="#B7B7B7"/>
<rect x="912.74" y="415.24" width="25.0" height="2.29" fill="#F1975A"/>
<rect x="912.74" y="417.38" width="25.0" height="1.93" fill="#7CAFDD"/>
<rect x="912.74" y="419.17" width="25.0" height="3.36" fill="#43682B"/>
<rect x="912.74" y="422.37" width="25.0" height="1.22" fill="#264478"/>
<rect x="912.74" y="423.44" width="25.0" height="2.29" fill="#997300"/>
<rect x="912.74" y="425.58" width="25.0" height="1.22" fill="#636363"/>
<rect x="912.74" y="426.65" width="25.0" height="2.65" fill="#9E480E"/>
<rect x="912.74" y="429.15" width="25.0" height="2.29" fill="#255E91"/>
<rect x="912.74" y="431.29" width="25.0" height="3.00" fill="#70AD47"/>
<rect x="912.74" y="434.14" width="25.0" height="2.65" fill="#4472C4"/>
<rect x="912.74" y="436.63" width="25.0" height="3.00" fill="#FFC000"/>
<rect x="912.74" y="439.48" width="25.0" height="1.93" fill="#A5A5A5"/>
<rect x="912.74" y="441.27" width="25.0" height="2.29" fill="#ED7D31"/>
<rect x="912.74" y="443.41" width="25.0" height="1.84" fill="#5B9BD5"/>
</g>
<g>
<rect x="974.56" y="403.05" width="25.0" height="1.59" fill="#1F4E79"/>
<rect x="974.56" y="404.49" width="25.0" height="2.01" fill="#A9D18E"/>
<rect x="974.56" y="406.35" width="25.0" height="0.46" fill="#8FAADC"/>
<rect x="974.56" y="406.66" width="25.0" height="2.21" fill="#FFD966"/>
<rect x="974.56" y="408.72" width="25.0" height="1.90" fill="#C9C9C9"/>
<rect x="974.56" y="410.48" width="25.0" height="0.36" fill="#F4B183"/>
<rect x="974.56" y="410.68" width="25.0" height="0.98" fill="#9DC3E6"/>
<rect x="974.56" y="411.51" width="25.0" height="1.80" fill="#5A8A39"/>
<rect x="974.56" y="413.16" width="25.0" height="1.59" fill="#335AA1"/>
<rect x="974.56" y="414.61" width="25.0" height="2.42" fill="#CC9A00"/>
<rect x="974.56" y="416.88" width="25.0" height="0.46" fill="#848484"/>
<rect x="974.56" y="417.19" width="25.0" height="2.21" fill="#D26012"/>
<rect x="974.56" y="419.25" width="25.0" height="0.67" fill="#327DC2"/>
<rect x="974.56" y="419.77" width="25.0" height="1.39" fill="#8CC168"/>
<rect x="974.56" y="421.00" width="25.0" height="1.49" fill="#698ED0"/>
<rect x="974.56" y="422.35" width="25.0" height="2.01" fill="#FFCD33"/>
<rect x="974.56" y="424.20" width="25.0" height="0.87" fill="#B7B7B7"/>
<rect x="974.56" y="424.92" width="25.0" height="1.70" fill="#F1975A"/>
<rect x="974.56" y="426.47" width="25.0" height="1.49" fill="#7CAFDD"/>
<rect x="974.56" y="427.81" width="25.0" height="1.80" fill="#43682B"/>
<rect x="974.56" y="429.47" width="25.0" height="1.29" fill="#264478"/>
<rect x="974.56" y="430.60" width="25.0" height="1.90" fill="#997300"/>
<rect x="974.56" y="432.35" width="25.0" height="0.56" fill="#636363"/>
<rect x="974.56" y="432.77" width="25.0" height="2.01" fill="#9E480E"/>
<rect x="974.56" y="434.62" width="25.0" height="1.59" fill="#255E91"/>
<rect x="974.56" y="436.07" width="25.0" height="1.80" fill="#70AD47"/>
<rect x="974.56" y="437.72" width="25.0" height="2.21" fill="#4472C4"/>
<rect x="974.56" y="439.78" width="25.0" height="2.83" fill="#FFC000"/>
<rect x="974.56" y="442.47" width="25.0" height="1.59" fill="#A5A5A5"/>
<rect x="974.56" y="443.91" width="25.0" height="0.98" fill="#ED7D31"/>
<rect x="974.56" y="444.74" width="25.0" height="0.51" fill="#5B9BD5"/>
</g>
</g>
<g class="a" text-anchor="middle">
<text x="59.96" y="465.3" textLength="24.4" lengthAdjust="spacingAndGlyphs">2005</text>
<text x="121.78" y="465.3" textLength="24.4" lengthAdjust="spacingAndGlyphs">2006</text>
<text x="183.60" y="465.3" textLength="24.4" lengthAdjust="spacingAndGlyphs">2007</text>
<text x="245.42" y="465.3" textLength="24.4" lengthAdjust="spacingAndGlyphs">2008</text>
<text x="307.24" y="465.3" textLength="24.4" lengthAdjust="spacingAndGlyphs">2009</text>
<text x="369.06" y="465.3" textLength="24.4" lengthAdjust="spacingAndGlyphs">2010</text>
<text x="430.88" y="465.3" textLength="24.4" lengthAdjust="spacingAndGlyphs">2011</text>
<text x="492.70" y="465.3" textLength="24.4" lengthAdjust="spacingAndGlyphs">2012</text>
<text x="554.52" y="465.3" textLength="24.4" lengthAdjust="spacingAndGlyphs">2013</text>
<text x="616.34" y="465.3" textLength="24.4" lengthAdjust="spacingAndGlyphs">2014</text>
<text x="678.16" y="465.3" textLength="24.4" lengthAdjust="spacingAndGlyphs">2015</text>
<text x="739.98" y="465.3" textLength="24.4" lengthAdjust="spacingAndGlyphs">2016</text>
<text x="801.80" y="465.3" textLength="24.4" lengthAdjust="spacingAndGlyphs">2017</text>
<text x="863.62" y="465.3" textLength="24.4" lengthAdjust="spacingAndGlyphs">2018</text>
<text x="925.44" y="465.3" textLength="24.4" lengthAdjust="spacingAndGlyphs">2019</text>
<text x="987.26" y="465.3" textLength="24.4" lengthAdjust="spacingAndGlyphs">2020</text>
</g>
<text class="t" x="513.2" y="15.5" text-anchor="middle" textLength="212.0" lengthAdjust="spacingAndGlyphs">Transboudary SO2 Pollution</text>
<g class="l">
<rect x="16.30" y="470.90" width="7.9" height="7.4" fill="#5B9BD5"/><text x="27.50" y="478.70" textLength="34.1" lengthAdjust="spacingAndGlyphs">Beijing</text>
<rect x="107.51" y="470.90" width="7.9" height="7.4" fill="#ED7D31"/><text x="118.71" y="478.70" textLength="33.4" lengthAdjust="spacingAndGlyphs">Tianjin</text>
<rect x="198.72" y="470.90" width="7.9" height="7.4" fill="#A5A5A5"/><text x="209.92" y="478.70" textLength="29.4" lengthAdjust="spacingAndGlyphs">Hebei</text>
<rect x="289.93" y="470.90" width="7.9" height="7.4" fill="#FFC000"/><text x="301.13" y="478.70" textLength="33.0" lengthAdjust="spacingAndGlyphs">Shanxi</text>
<rect x="381.14" y="470.90" width="7.9" height="7.4" fill="#4472C4"/><text x="392.34" y="478.70" textLength="77.9" lengthAdjust="spacingAndGlyphs">Inner Mongoria</text>
<rect x="472.35" y="470.90" width="7.9" height="7.4" fill="#70AD47"/><text x="483.55" y="478.70" textLength="42.4" lengthAdjust="spacingAndGlyphs">Liaoning</text>
<rect x="563.56" y="470.90" width="7.9" height="7.4" fill="#255E91"/><text x="574.76" y="478.70" textLength="19.0" lengthAdjust="spacingAndGlyphs">Jilin</text>
<rect x="654.77" y="470.90" width="7.9" height="7.4" fill="#9E480E"/><text x="665.97" y="478.70" textLength="62.0" lengthAdjust="spacingAndGlyphs">Heilongjiang</text>
<rect x="745.98" y="470.90" width="7.9" height="7.4" fill="#636363"/><text x="757.18" y="478.70" textLength="45.9" lengthAdjust="spacingAndGlyphs">Shanghai</text>
<rect x="837.19" y="470.90" width="7.9" height="7.4" fill="#997300"/><text x="848.39" y="478.70" textLength="36.0" lengthAdjust="spacingAndGlyphs">Jiangsu</text>
<rect x="928.40" y="470.90" width="7.9" height="7.4" fill="#264478"/><text x="939.60" y="478.70" textLength="42.2" lengthAdjust="spacingAndGlyphs">Zhejiang</text>
<rect x="16.30" y="495.40" width="7.9" height="7.4" fill="#43682B"/><text x="27.50" y="503.20" textLength="30.4" lengthAdjust="spacingAndGlyphs">Anhui</text>
<rect x="107.51" y="495.40" width="7.9" height="7.4" fill="#7CAFDD"/><text x="118.71" y="503.20" textLength="30.4" lengthAdjust="spacingAndGlyphs">Fujian</text>
<rect x="198.72" y="495.40" width="7.9" height="7.4" fill="#F1975A"/><text x="209.92" y="503.20" textLength="33.4" lengthAdjust="spacingAndGlyphs">Jiangxi</text>
<rect x="289.93" y="495.40" width="7.9" height="7.4" fill="#B7B7B7"/><text x="301.13" y="503.20" textLength="50.0" lengthAdjust="spacingAndGlyphs">Shandong</text>
<rect x="381.14" y="495.40" width="7.9" height="7.4" fill="#FFCD33"/><text x="392.34" y="503.20" textLength="33.0" lengthAdjust="spacingAndGlyphs">Henan</text>
<rect x="472.35" y="495.40" width="7.9" height="7.4" fill="#698ED0"/><text x="483.55" y="503.20" textLength="30.6" lengthAdjust="spacingAndGlyphs">Hubei</text>
<rect x="563.56" y="495.40" width="7.9" height="7.4" fill="#8CC168"/><text x="574.76" y="503.20" textLength="33.0" lengthAdjust="spacingAndGlyphs">Hunan</text>
<rect x="654.77" y="495.40" width="7.9" height="7.4" fill="#327DC2"/><text x="665.97" y="503.20" textLength="57.7" lengthAdjust="spacingAndGlyphs">Guangdong</text>
<rect x="745.98" y="495.40" width="7.9" height="7.4" fill="#D26012"/><text x="757.18" y="503.20" textLength="40.6" lengthAdjust="spacingAndGlyphs">Guangxi</text>
<rect x="837.19" y="495.40" width="7.9" height="7.4" fill="#848484"/><text x="848.39" y="503.20" textLength="35.1" lengthAdjust="spacingAndGlyphs">Hainan</text>
<rect x="928.40" y="495.40" width="7.9" height="7.4" fill="#CC9A00"/><text x="939.60" y="503.20" textLength="53.3" lengthAdjust="spacingAndGlyphs">Chongqing</text>
<rect x="16.30" y="519.90" width="7.9" height="7.4" fill="#335AA1"/><text x="27.50" y="527.70" textLength="39.2" lengthAdjust="spacingAndGlyphs">Sichuan</text>
<rect x="107.51" y="519.90" width="7.9" height="7.4" fill="#5A8A39"/><text x="118.71" y="527.70" textLength="41.6" lengthAdjust="spacingAndGlyphs">Guizhou</text>
<rect x="198.72" y="519.90" width="7.9" height="7.4" fill="#9DC3E6"/><text x="209.92" y="527.70" textLength="38.6" lengthAdjust="spacingAndGlyphs">Yunnan</text>
<rect x="289.93" y="519.90" width="7.9" height="7.4" fill="#F4B183"/><text x="301.13" y="527.70" textLength="25.5" lengthAdjust="spacingAndGlyphs">Tibet</text>
<rect x="381.14" y="519.90" width="7.9" height="7.4" fill="#C9C9C9"/><text x="392.34" y="527.70" textLength="40.2" lengthAdjust="spacingAndGlyphs">Shannxi</text>
<rect x="472.35" y="519.90" width="7.9" height="7.4" fill="#FFD966"/><text x="483.55" y="527.70" textLength="31.8" lengthAdjust="spacingAndGlyphs">Gansu</text>
<rect x="563.56" y="519.90" width="7.9" height="7.4" fill="#8FAADC"/><text x="574.76" y="527.70" textLength="38.8" lengthAdjust="spacingAndGlyphs">Qinghai</text>
<rect x="654.77" y="519.90" width="7.9" height="7.4" fill="#A9D18E"/><text x="665.97" y="527.70" textLength="36.7" lengthAdjust="spacingAndGlyphs">Ningxia</text>
<rect x="745.98" y="519.90" width="7.9" height="7.4" fill="#1F4E79"/><text x="757.18" y="527.70" textLength="39.6" lengthAdjust="spacingAndGlyphs">Xinjiang</text>
</g>
</g></svg></body></html>
